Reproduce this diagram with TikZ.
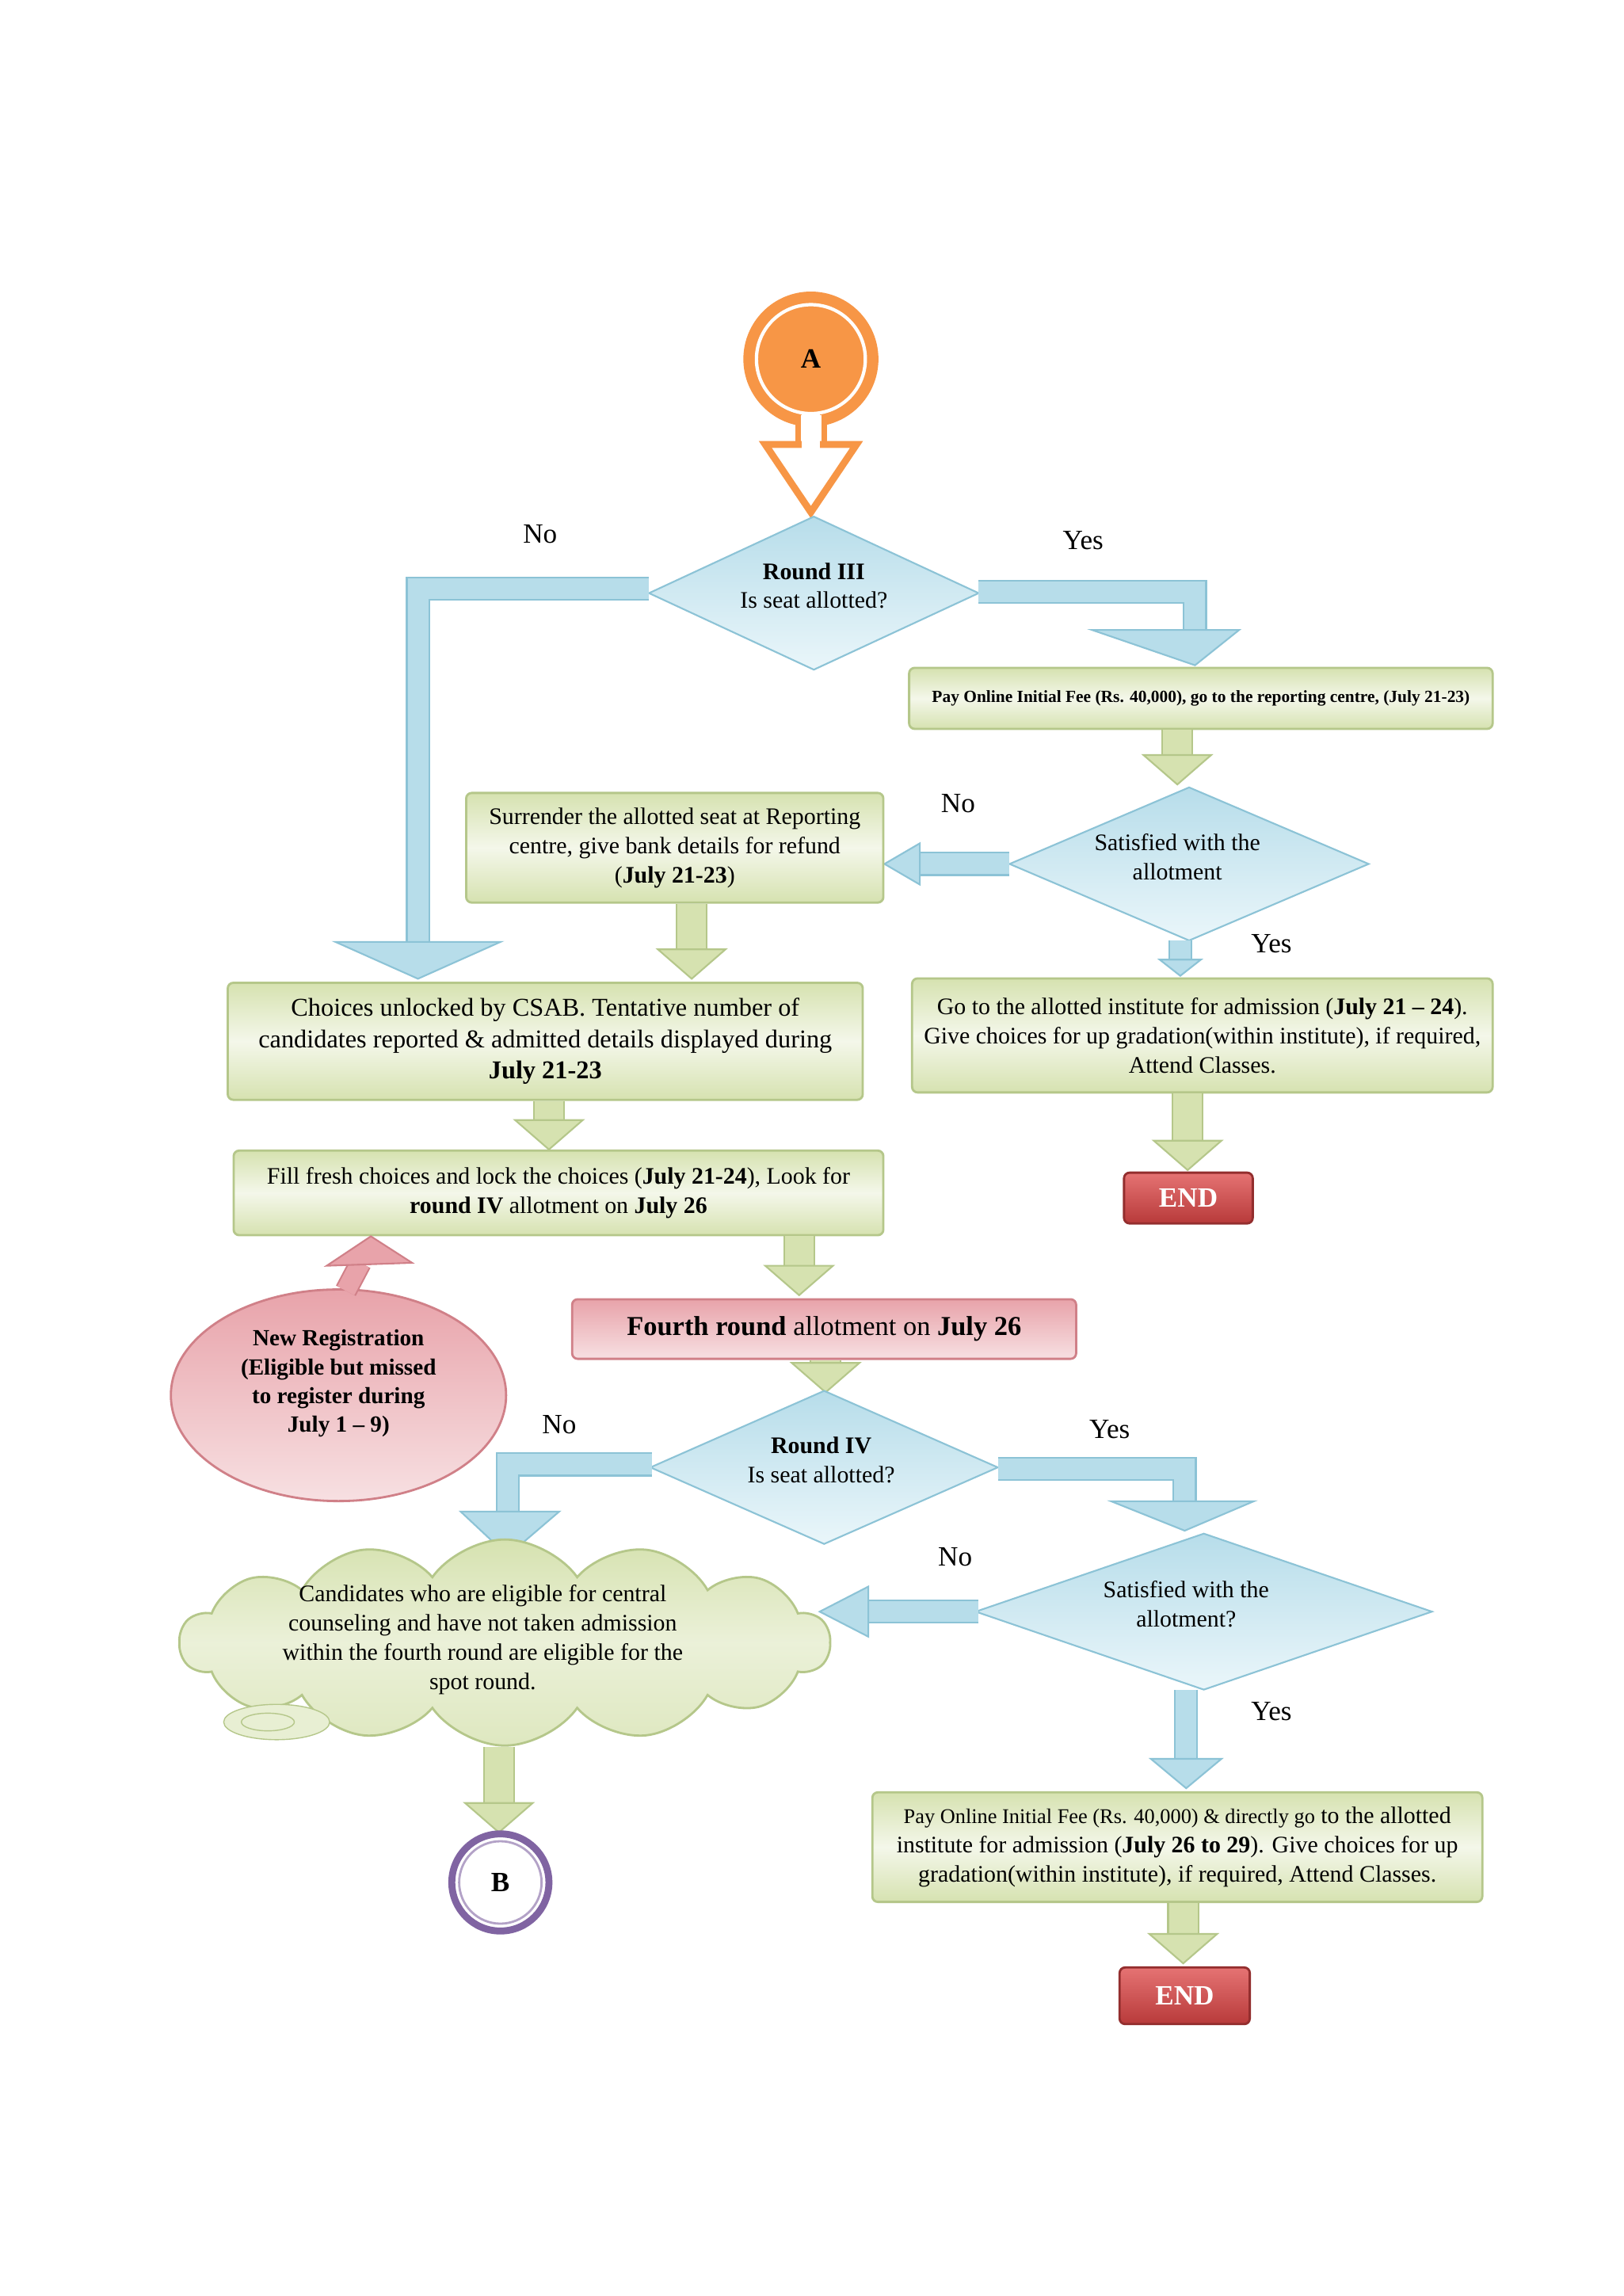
\documentclass[tikz,border=0pt]{standalone}
\usepackage{fontspec}
\setmainfont{Liberation Serif}
\usetikzlibrary{shapes.geometric,shapes.symbols,fit}
\definecolor{gB}{HTML}{B5C78A}\definecolor{gT}{HTML}{D6E2B0}\definecolor{gL}{HTML}{F4F7EA}
\definecolor{bB}{HTML}{8CC3D6}\definecolor{bF}{HTML}{B7DDEA}\definecolor{bL}{HTML}{EAF6FA}
\definecolor{oR}{HTML}{F79646}\definecolor{pU}{HTML}{8064A2}
\definecolor{rD}{HTML}{B83A3A}\definecolor{rL}{HTML}{E57373}
\definecolor{pB}{HTML}{D08088}\definecolor{pT}{HTML}{E8A3AA}\definecolor{pL}{HTML}{F7E0E2}
\tikzset{
 box/.style={draw=gB,line width=0.8pt,rounded corners=2pt,top color=gT,bottom color=gT,middle color=gL,inner sep=-0.4pt},
 dia/.style={draw=bB,line width=0.6pt,top color=bF,bottom color=bL},
 txt/.style={align=center,font=\fontsize{8.5}{10.5}\selectfont},
 bshaft/.style={draw=bB,double=bF,double distance=0.26cm,line width=0.6pt},
 bhead/.style={draw=bB,fill=bF,line width=0.6pt,line join=miter},
 gshaft/.style={draw=gB,double=gT,double distance=0.36cm,line width=0.6pt},
 ghead/.style={draw=gB,fill=gT,line width=0.6pt},
 endb/.style={draw=rD!80!black,line width=0.8pt,rounded corners=2pt,top color=rL,bottom color=rD,inner sep=-0.4pt},
 lab/.style={font=\fontsize{10}{12}\selectfont},
}
\newcommand\vg[3]{\draw[gshaft] (#1,#2) -- (#1,#3-20); \filldraw[ghead] (#1-23,#3-20) -- (#1+23,#3-20) -- (#1,#3) -- cycle;}
\begin{document}
\begin{tikzpicture}[x=0.01857cm,y=-0.01857cm]
\useasboundingbox[fill=white] (0,0) rectangle (1103,1560);
% A
\draw[oR,line width=2pt,fill=oR] (551,244) circle[radius=44];
\draw[white,line width=1.2pt] (551,244) circle[radius=37];
\node[font=\bfseries\fontsize{10}{12}\selectfont] (A) at (551,244) {A};
\draw[oR,double=white,double distance=0.26cm,line width=2pt] (551,282) -- (551,304);
\filldraw[draw=oR,fill=white,line width=2.5pt,line join=miter] (520,302) -- (582,302) -- (551,348) -- cycle;
\fill[white] (545,280) rectangle (557,306);
% Diamond 1
\path[dia] (441,403) -- (553,351) -- (665,403) -- (553,455) -- cycle;
\node[txt] (d1) at (553,398) {\textbf{Round III}\\Is seat allotted?};
\node[lab] at (367,363) {No};
\node[lab] at (736,367) {Yes};
\draw[bshaft] (441,400) -- (284,400) -- (284,640);
\filldraw[bhead] (228,640) -- (340,640) -- (284,665) -- cycle;
\draw[bshaft] (665,402) -- (812,402) -- (812,428);
\filldraw[bhead] (742,428) -- (842,428) -- (812,452) -- cycle;
% Box1
\node[box,fit={(617,453)(1015,496)}] (b1) {};
\node[txt,font=\bfseries\fontsize{6.1}{8}\selectfont] at (b1.center) {Pay Online Initial Fee (Rs. 40,000), go to the reporting centre, (July 21-23)};
\vg{800}{496}{533}
% Diamond 2
\path[dia] (686,587) -- (808,535) -- (930,587) -- (808,639) -- cycle;
\node[txt] (d2) at (800,582) {Satisfied with the\\allotment};
\node[lab] at (651,546) {No};
\node[lab] at (864,641) {Yes};
\draw[bshaft] (686,587) -- (625,587);
\filldraw[bhead] (625,573) -- (625,601) -- (601,587) -- cycle;
% Box2
\node[box,fit={(316,538)(601,614)}] (b2) {};
\node[txt] at (b2.center) {Surrender the allotted seat at Reporting\\centre, give bank details for refund\\(\textbf{July 21-23})};
\vg{470}{614}{665}
\draw[bshaft] (802,639) -- (802,652);
\filldraw[bhead] (788,652) -- (816,652) -- (802,663) -- cycle;
% Box3
\node[box,fit={(154,667)(587,748)}] (b3) {};
\node[txt,font=\fontsize{9.2}{11.2}\selectfont] at (b3.center) {Choices unlocked by CSAB. Tentative number of\\candidates reported \& admitted details displayed during\\\textbf{July 21-23}};
% Box4
\node[box,fit={(619,664)(1015,743)}] (b4) {};
\node[txt] at (b4.center) {Go to the allotted institute for admission (\textbf{July 21 -- 24}).\\Give choices for up gradation(within institute), if required,\\Attend Classes.};
\vg{807}{743}{795}
\node[endb,fit={(763,796)(852,832)}] (e1) {};
\node[white,font=\bfseries\fontsize{10}{12}\selectfont] at (e1.center) {END};
\vg{373}{748}{781}
% Box5
\node[box,fit={(158,781)(601,840)}] (b5) {};
\node[txt] at (b5.center) {Fill fresh choices and lock the choices (\textbf{July 21-24}), Look for\\\textbf{round IV} allotment on \textbf{July 26}};
% Ellipse
\node[ellipse,draw=pB,line width=0.8pt,top color=pT,bottom color=pL,minimum width=4.23cm,minimum height=2.67cm] (el) at (230,948) {};
\node[txt,font=\bfseries\fontsize{8.3}{10.3}\selectfont] at (230,940) {New Registration\\(Eligible but missed\\to register during\\July 1 -- 9)};
\draw[draw=pB,double=pT,double distance=0.24cm,line width=0.6pt] (235,877) -- (245,858);
\filldraw[draw=pB,fill=pT,line width=0.6pt] (222,860) -- (280,858) -- (252,840) -- cycle;
\vg{543}{840}{880}
% Box6
\node[draw=pB,line width=0.8pt,rounded corners=2pt,top color=pT,bottom color=pL,fit={(388,882)(732,924)},inner sep=-0.4pt] (b6) {};
\node[txt,font=\fontsize{9.8}{12}\selectfont] at (b6.center) {\textbf{Fourth round} allotment on \textbf{July 26}};
\vg{561}{924}{946}
% Diamond 3
\path[dia] (442,997) -- (560,945) -- (678,997) -- (560,1049) -- cycle;
\node[txt] (d3) at (558,992) {\textbf{Round IV}\\Is seat allotted?};
\node[lab] at (380,968) {No};
\node[lab] at (754,971) {Yes};
\draw[bshaft] (443,995) -- (345,995) -- (345,1027);
\filldraw[bhead] (313,1027) -- (380,1027) -- (345,1057) -- cycle;
\draw[bshaft] (678,998) -- (805,998) -- (805,1020);
\filldraw[bhead] (755,1020) -- (852,1020) -- (805,1040) -- cycle;
% Diamond 4
\path[dia] (663,1095) -- (818,1042) -- (973,1095) -- (818,1148) -- cycle;
\node[txt] (d4) at (806,1090) {Satisfied with the\\allotment?};
\node[lab] at (649,1058) {No};
\node[lab] at (864,1163) {Yes};
\draw[bshaft] (665,1095) -- (590,1095);
\filldraw[bhead] (590,1078) -- (590,1112) -- (557,1095) -- cycle;
% Cloud
\node[cloud,cloud puffs=14,cloud puff arc=110,aspect=3,draw=gB,line width=0.8pt,top color=gT,bottom color=gT!80,middle color=gL!70!gT,minimum width=8.2cm,minimum height=2.6cm,inner sep=0pt] (cl) at (343,1116) {};
\draw[gB,fill=gL!60!gT] (188,1170) ellipse[x radius=36,y radius=12];
\draw[gB] (182,1170) ellipse[x radius=18,y radius=6];
\node[txt] at (328,1114) {Candidates who are eligible for central\\counseling and have not taken admission\\within the fourth round are eligible for the\\spot round.};
\draw[bshaft] (806,1148) -- (806,1195);
\filldraw[bhead] (782,1195) -- (830,1195) -- (806,1215) -- cycle;
% Box7
\node[box,fit={(592,1217)(1008,1293)}] (b7) {};
\node[txt] at (b7.center) {{\fontsize{7.5}{10.5}\selectfont Pay Online Initial Fee (Rs. 40,000) \& directly go} to the allotted\\institute for admission (\textbf{July 26 to 29}). Give choices for up\\gradation(within institute), if required, Attend Classes.};
\vg{804}{1293}{1334}
\node[endb,fit={(760,1336)(850,1376)}] (e2) {};
\node[white,font=\bfseries\fontsize{10}{12}\selectfont] at (e2.center) {END};
\vg{339}{1187}{1245}
% B
\draw[pU,line width=2.5pt,fill=white] (340,1279) circle[radius=33];
\draw[pU!60,line width=0.8pt] (340,1279) circle[radius=28];
\node[font=\bfseries\fontsize{10}{12}\selectfont] (B) at (340,1279) {B};
\end{tikzpicture}
\end{document}
